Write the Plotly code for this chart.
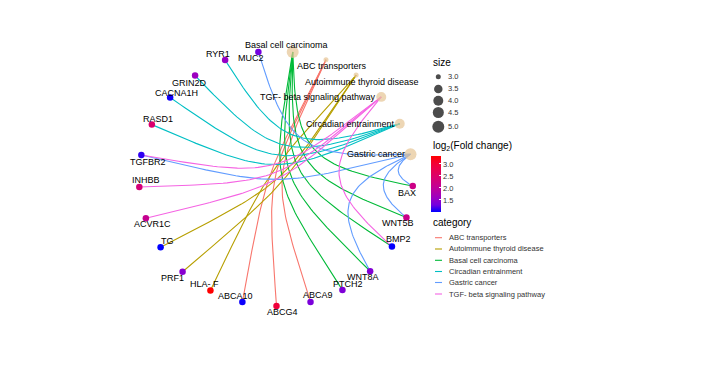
import numpy as np
import plotly.graph_objects as go

# ---------------- data ----------------
categories = ["ABC transporters", "Autoimmune thyroid disease", "Basal cell carcinoma",
              "Circadian entrainment", "Gastric cancer", "TGF- beta signaling pathway"]
category_size = [3, 3, 5, 4, 5, 4]
category_colors = ["#F8766D", "#B79F00", "#00BA38", "#00BFC4", "#619CFF", "#F564E3"]

abc_genes = ["ABCA10", "ABCG4", "ABCA9"]
autoimmune_genes = ["TG", "PRF1", "HLA- F"]
basal_genes = ["BAX", "WNT5B", "BMP2", "WNT8A", "PTCH2"]
circadian_genes = ["RYR1", "GRIN2D", "CACNA1H", "RASD1"]
gastric_genes = ["MUC2", "TGFBR2", "BAX", "WNT5B", "WNT8A"]
tgf_genes = ["TGFBR2", "INHBB", "ACVR1C", "BMP2"]
category_gene_lists = [abc_genes, autoimmune_genes, basal_genes,
                       circadian_genes, gastric_genes, tgf_genes]

genes = ["MUC2", "RYR1", "GRIN2D", "CACNA1H", "RASD1", "TGFBR2", "INHBB", "ACVR1C",
         "TG", "PRF1", "HLA- F", "ABCA10", "ABCG4", "ABCA9", "PTCH2", "WNT8A",
         "BMP2", "WNT5B", "BAX"]
gene_log2fc = [1.30, 1.55, 1.60, 1.05, 2.45, 1.12, 2.35, 2.10,
               1.00, 1.45, 3.33, 1.03, 2.95, 1.35, 1.38, 1.40,
               1.01, 2.15, 2.20]

size_legend_values = [3.0, 3.5, 4.0, 4.5, 5.0]
fc_ticks = [1.5, 2.0, 2.5, 3.0]

# ---------------- layout (circular) ----------------
W, H = 720, 365
OFF = 8.0  # page body margin
CX, CY, RX, RY = 276.0 - OFF, 178.5 - OFF, 137.0, 127.5
circle_order = ["Gastric cancer", "Circadian entrainment", "TGF- beta signaling pathway",
                "Autoimmune thyroid disease", "ABC transporters", "Basal cell carcinoma",
                "MUC2", "RYR1", "GRIN2D", "CACNA1H", "RASD1", "TGFBR2", "INHBB", "ACVR1C",
                "TG", "PRF1", "HLA- F", "ABCA10", "ABCG4", "ABCA9", "PTCH2", "WNT8A",
                "BMP2", "WNT5B", "BAX"]
start_deg = 11.0
step = 360.0 / len(circle_order)
angle = {n: np.deg2rad(start_deg + i * step) for i, n in enumerate(circle_order)}


def unit(t):
    return np.array([np.cos(t), np.sin(t)])


def px2data(px, py):
    return (px - OFF - CX) / RX, (CY - (py - OFF)) / RY


def pxp(px, py):
    return (px - OFF) / W, 1 - (py - OFF) / H


def diam(s):
    return 5.0 + 7.0 * np.sqrt((s - 3.0) / 2.0)


FONT = "Liberation Sans, Arial, sans-serif"
fig = go.Figure()

# ---------------- edges ----------------
tt = np.linspace(0, 1, 60)
for cat, col, glist in zip(categories, category_colors, category_gene_lists):
    xs, ys = [], []
    for g in glist:
        ta, tb = angle[cat], angle[g]
        d = (tb - ta + np.pi) % (2 * np.pi) - np.pi
        p0, p3 = unit(ta), unit(tb)
        L = np.linalg.norm(p3 - p0)
        rc = 1 - 0.55 * L
        p1 = rc * unit(ta + d / 3)
        p2 = rc * unit(ta + 2 * d / 3)
        b = ((1 - tt) ** 3)[:, None] * p0 + (3 * (1 - tt) ** 2 * tt)[:, None] * p1 \
            + (3 * (1 - tt) * tt ** 2)[:, None] * p2 + (tt ** 3)[:, None] * p3
        xs += list(b[:, 0]) + [None]
        ys += list(b[:, 1]) + [None]
    fig.add_trace(go.Scatter(x=xs, y=ys, mode="lines", line=dict(color=col, width=1.1),
                             hoverinfo="skip", showlegend=False))

# ---------------- nodes ----------------
cs = [[0, "#0000FF"], [0.125, "#7300E0"], [0.25, "#9A00C2"], [0.375, "#B500A5"],
      [0.5, "#CA0089"], [0.625, "#DA006C"], [0.75, "#E80050"], [0.875, "#F40031"],
      [1, "#FF0000"]]

cx = [np.cos(angle[c]) for c in categories]
cy = [np.sin(angle[c]) for c in categories]
fig.add_trace(go.Scatter(x=cx, y=cy, mode="markers", text=categories,
                         marker=dict(color="#E5C494", size=[diam(s) for s in category_size],
                                     line=dict(width=0)),
                         showlegend=False, hoverinfo="text"))

cbx, cby = pxp(431, 156)
gx = [np.cos(angle[g]) for g in genes]
gy = [np.sin(angle[g]) for g in genes]
fig.add_trace(go.Scatter(
    x=gx, y=gy, mode="markers", text=genes, hoverinfo="text", showlegend=False,
    marker=dict(color=gene_log2fc, colorscale=cs, cmin=min(gene_log2fc), cmax=max(gene_log2fc),
                size=6.5, line=dict(width=0),
                colorbar=dict(x=cbx, xanchor="left", y=cby, yanchor="top",
                              len=56, lenmode="pixels", thickness=10, thicknessmode="pixels",
                              outlinewidth=0, xpad=0, ypad=0,
                              tickvals=fc_ticks, ticktext=[f"{v:.1f}" for v in fc_ticks],
                              ticks="inside", ticklen=2, tickcolor="white",
                              tickfont=dict(size=7.5, color="#333333", family=FONT)))))

# ---------------- node labels ----------------
label_offset = {
    "RYR1": (-7, 6, "center"), "MUC2": (-7, -6, "center"),
    "Basal cell carcinoma": (-6, 7, "center"), "ABC transporters": (6, -6, "center"),
    "Autoimmune thyroid disease": (6, -7, "center"),
    "TGF- beta signaling pathway": (-3, 0, "right"),
    "Circadian entrainment": (-3, 0, "right"), "Gastric cancer": (-3, 0, "right"),
    "BAX": (-6, -7, "center"), "WNT5B": (-8, -6, "center"), "BMP2": (7, 7, "center"),
    "WNT8A": (-7, -6, "center"), "PTCH2": (6, 6, "center"), "ABCA9": (7, 7, "center"),
    "ABCG4": (6, -6, "center"), "ABCA10": (-7, 6, "center"), "HLA- F": (-6, 6, "center"),
    "PRF1": (-10, -6, "center"), "TG": (7, 6, "center"), "ACVR1C": (7, -6, "center"),
    "INHBB": (7, 7, "center"), "TGFBR2": (7, -7, "center"), "RASD1": (6, 6, "center"),
    "CACNA1H": (6, 5, "center"), "GRIN2D": (-6, -7, "center"),
}
for n in circle_order:
    dx, dy, anc = label_offset[n]
    p = unit(angle[n])
    fig.add_annotation(x=p[0], y=p[1], text=n, showarrow=False, xanchor=anc, yanchor="middle",
                       xshift=dx, yshift=dy, font=dict(size=9, color="black", family=FONT))

# ---------------- size legend ----------------
tx, ty = pxp(431, 63)
fig.add_annotation(x=tx, y=ty, xref="paper", yref="paper", text="size",
                   showarrow=False, xanchor="left", yanchor="middle",
                   font=dict(size=10, color="black", family=FONT))
size_y = [76.7, 89.0, 100.7, 112.5, 126.7]
sx, sy = [], []
for yy in size_y:
    a, b = px2data(438.3, yy)
    sx.append(a)
    sy.append(b)
fig.add_trace(go.Scatter(x=sx, y=sy, mode="markers", hoverinfo="skip", showlegend=False,
                         marker=dict(color="black", size=[diam(s) for s in size_legend_values],
                                     line=dict(width=0))))
for v, yy in zip(size_legend_values, size_y):
    lx, ly = pxp(446, yy)
    fig.add_annotation(x=lx, y=ly, xref="paper", yref="paper", text=f"{v:.1f}",
                       showarrow=False, xanchor="left", yanchor="middle",
                       font=dict(size=7.5, color="#333333", family=FONT))

# ---------------- colour legend title ----------------
tx, ty = pxp(431, 146)
fig.add_annotation(x=tx, y=ty, xref="paper", yref="paper",
                   text="log<sub>2</sub>(Fold change)", showarrow=False, xanchor="left",
                   yanchor="middle", font=dict(size=10, color="black", family=FONT))

# ---------------- category legend ----------------
tx, ty = pxp(431, 222.7)
fig.add_annotation(x=tx, y=ty, xref="paper", yref="paper", text="category",
                   showarrow=False, xanchor="left", yanchor="middle",
                   font=dict(size=10, color="black", family=FONT))
cat_y = [237.7, 249.0, 260.3, 271.5, 282.5, 294.0]
for cat, col, yy in zip(categories, category_colors, cat_y):
    x0, y0 = pxp(435, yy)
    x1, _ = pxp(442, yy)
    fig.add_shape(type="line", xref="paper", yref="paper", x0=x0, x1=x1,
                  y0=y0, y1=y0, line=dict(color=col, width=1.1))
    lx, ly = pxp(446.7, yy)
    fig.add_annotation(x=lx, y=ly, xref="paper", yref="paper", text=cat,
                       showarrow=False, xanchor="left", yanchor="middle",
                       font=dict(size=7.5, color="#333333", family=FONT))

fig.update_layout(
    width=W, height=H, autosize=False, margin=dict(l=0, r=0, t=0, b=0, pad=0),
    paper_bgcolor="white", plot_bgcolor="white", showlegend=False,
    xaxis=dict(range=[-CX / RX, (W - CX) / RX], visible=False, fixedrange=True),
    yaxis=dict(range=[-(H - CY) / RY, CY / RY], visible=False, fixedrange=True),
)
fig.write_html("out.html")
